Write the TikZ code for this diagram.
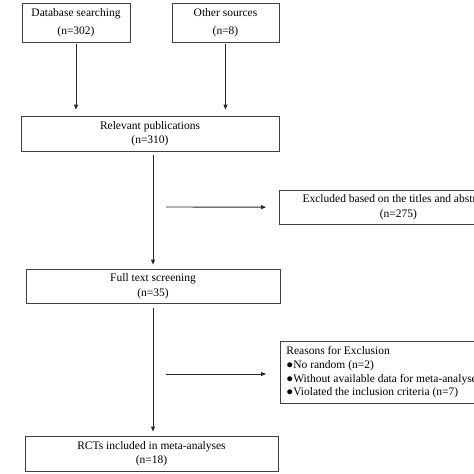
\documentclass[tikz,border=0pt]{standalone}
\usepackage{fontspec}
\setmainfont{Liberation Serif}
\usetikzlibrary{arrows.meta,positioning}
\tikzset{
    box/.style={draw=black!75, line width=0.8pt, align=center, inner sep=2pt, font=\fontsize{11.5}{14.5}\selectfont},
    topbox/.style={box, minimum height=39pt, font=\fontsize{11.5}{18}\selectfont},
    edge/.style={draw=black!85, line width=0.9pt, -{Triangle[length=5pt,width=4pt]}}
}

\begin{document}
\begin{tikzpicture}[x=1pt, y=-1pt]
    \useasboundingbox (0,0) rectangle (474,474);
    \clip (0,0) rectangle (474,474);
    % Nodes
    \node[topbox, minimum width=108pt] (db) at (76,22.5) {Database searching\\(n=302)};
    \node[topbox, minimum width=107pt] (other) at (225.5,22.5) {Other sources\\(n=8)};
    \node[box, minimum width=258pt, minimum height=35pt] (rel) at (150,133.5) {Relevant publications\\(n=310)};
    \node[box, minimum width=238pt, minimum height=34pt, anchor=north west] (excl) at (279,190) {Excluded based on the titles and abstracts\\(n=275)};
    \node[box, minimum width=254pt, minimum height=34pt] (full) at (153,286) {Full text screening\\(n=35)};
    \node[box, minimum height=62pt, align=left, anchor=north west, inner xsep=6pt, font=\fontsize{11.5}{13.7}\selectfont] (why) at (280,341) {Reasons for Exclusion\\●No random (n=2)\\●Without available data for meta-analyses (n=8)\\●Violated the inclusion criteria (n=7)};
    \node[box, minimum width=253pt, minimum height=35pt] (rct) at (151.5,453.5) {RCTs included in meta-analyses\\(n=18)};
    \coordinate (s1) at (166,207);
    \coordinate (s2) at (166,374);

    % edges
    \draw[edge, shorten <=2pt, shorten >=6pt] (db.south) -- (db.south |- rel.north);
    \draw[edge, shorten <=2pt, shorten >=6pt] (other.south) -- (other.south |- rel.north);
    \draw[edge, shorten <=4pt, shorten >=4pt] (full.north |- rel.south) -- (full.north);
    \draw[edge, shorten <=5pt, shorten >=4pt] (full.south) -- (full.south |- rct.north);
    \draw[edge, shorten >=13pt] (s1) -- (excl);
    \draw[edge, shorten >=14pt] (s2) -- (s2 -| why.west);
\end{tikzpicture}
\end{document}
